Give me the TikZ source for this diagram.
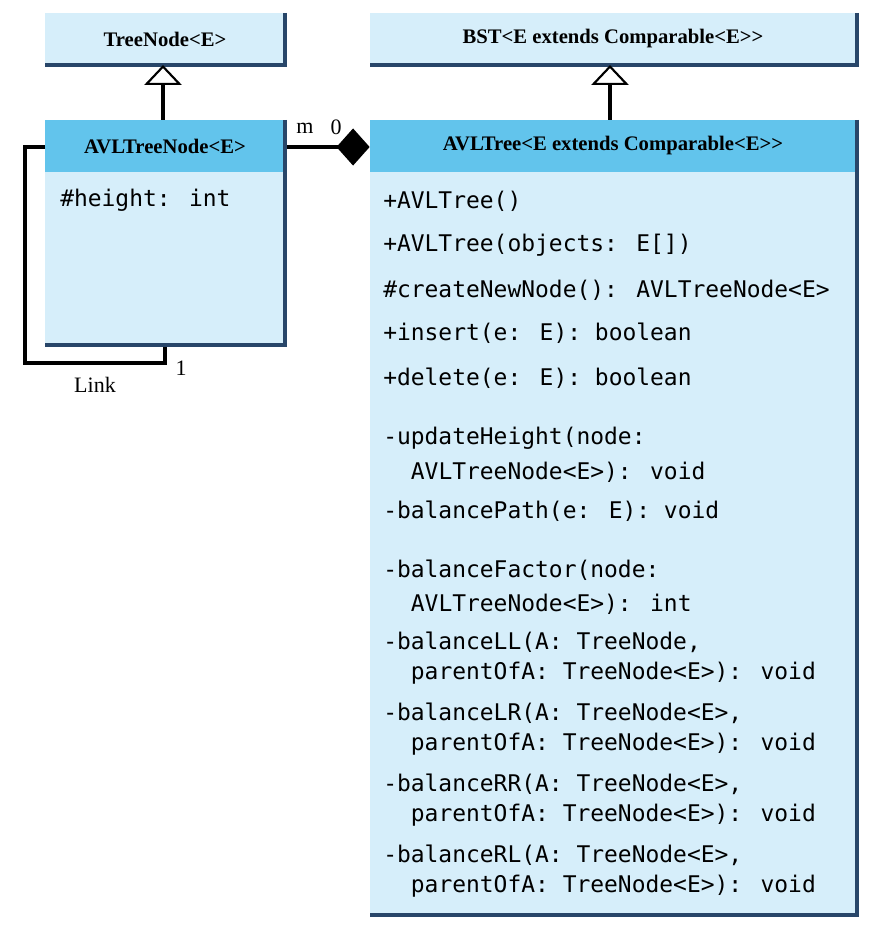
\documentclass[tikz,border=0pt]{standalone}
\usepackage{fontspec}
\setmainfont{Liberation Serif}[Ligatures=NoCommon]
\newfontfamily\monof{DejaVu Sans Mono}
\usetikzlibrary{arrows.meta,shapes.geometric}
\definecolor{bodyblue}{RGB}{214,238,250}
\definecolor{headblue}{RGB}{98,196,236}
\definecolor{shadeblue}{RGB}{40,70,105}
\tikzset{
  px/.style={x=0.75pt,y=-0.75pt},
  shade/.style={draw=shadeblue,line width=2.5pt},
  title/.style={font=\bfseries\fontsize{15.5}{18}\selectfont},
  item/.style={anchor=west,inner sep=0pt,font=\monof\fontsize{17.2}{20}\selectfont},
  lbl/.style={inner sep=0pt,font=\fontsize{16.5}{19}\selectfont},
  link/.style={line width=2.6pt,black},
  inherit/.style={link,-{Triangle[open,length=15pt,width=28pt,line width=1.6pt]}},
}
\begin{document}
\begin{tikzpicture}[px]
\useasboundingbox (0,0) rectangle (889,930);
% boxes
\fill[bodyblue] (45,13) rectangle (285,65);
\draw[shade] (285,13) -- (285,65) -- (45,65);
\fill[bodyblue] (370,13) rectangle (857,65);
\draw[shade] (857,13) -- (857,65) -- (370,65);
\fill[bodyblue] (45,172) rectangle (285,345);
\fill[headblue] (45,120) rectangle (285,172);
\draw[shade] (285,120) -- (285,345) -- (45,345);
\fill[bodyblue] (370,172) rectangle (857,915);
\fill[headblue] (370,120) rectangle (857,172);
\draw[shade] (857,120) -- (857,915) -- (370,915);
% titles
\node[title] (tn) at (165,39) {TreeNode<E>};
\node[title] (bst) at (613,39) {BST<E extends Comparable<E>{}>};
\node[title] (avln) at (165,146) {AVLTreeNode<E>};
\node[title] (avlt) at (613,146) {AVLTree<E extends Comparable<E>{}>};
% anchor coordinates
\coordinate (tnb) at (163,65);
\coordinate (tnt) at (163,120);
\coordinate (bstb) at (610,65);
\coordinate (bstt) at (610,120);
\coordinate (nr) at (287,147);
\coordinate (tl) at (370,147);
\coordinate (nl) at (45,147);
\coordinate (nb) at (165,347);
% connectors
\draw[inherit] (tnt) -- (tnb);
\draw[inherit] (bstt) -- (bstb);
\draw[link] (nr) -- (345,147);
\node[diamond,fill=black,inner sep=0pt,minimum width=25pt,minimum height=28pt,anchor=east] (dia) at (tl) {};
\draw[link] (nl) -- (25,147) -- (25,363) -- (165,363) -- (nb);
\node[lbl] (m) at (305,128) {m};
\node[lbl] (z) at (336,127) {0};
\node[lbl] (one) at (181,368) {1};
\node[lbl] (lk) at (95,385) {Link};
% members
\node[item] (h) at (60,200) {\#height: int};
\node[item] (a1) at (383,201) {+AVLTree()};
\node[item] (a2) at (383,245) {+AVLTree(objects: E[])};
\node[item] (a3) at (383,290) {\#createNewNode(): AVLTreeNode<E>};
\node[item] (a4) at (383,333) {+insert(e: E): boolean};
\node[item] (a5) at (383,378) {+delete(e: E): boolean};
\node[item] (a6) at (383,438) {-updateHeight(node:};
\node[item] (a6b) at (383,472) {\ \ AVLTreeNode<E>): void};
\node[item] (a7) at (383,511) {-balancePath(e: E): void};
\node[item] (a8) at (383,570) {-balanceFactor(node:};
\node[item] (a8b) at (383,604) {\ \ AVLTreeNode<E>): int};
\node[item] (a9) at (383,642) {-balanceLL(A: TreeNode,};
\node[item] (a9b) at (383,673) {\ \ parentOfA: TreeNode<E>): void};
\node[item] (a10) at (383,713) {-balanceLR(A: TreeNode<E>,};
\node[item] (a10b) at (383,744) {\ \ parentOfA: TreeNode<E>): void};
\node[item] (a11) at (383,784) {-balanceRR(A: TreeNode<E>,};
\node[item] (a11b) at (383,815) {\ \ parentOfA: TreeNode<E>): void};
\node[item] (a12) at (383,855) {-balanceRL(A: TreeNode<E>,};
\node[item] (a12b) at (383,886) {\ \ parentOfA: TreeNode<E>): void};
\end{tikzpicture}
\end{document}
